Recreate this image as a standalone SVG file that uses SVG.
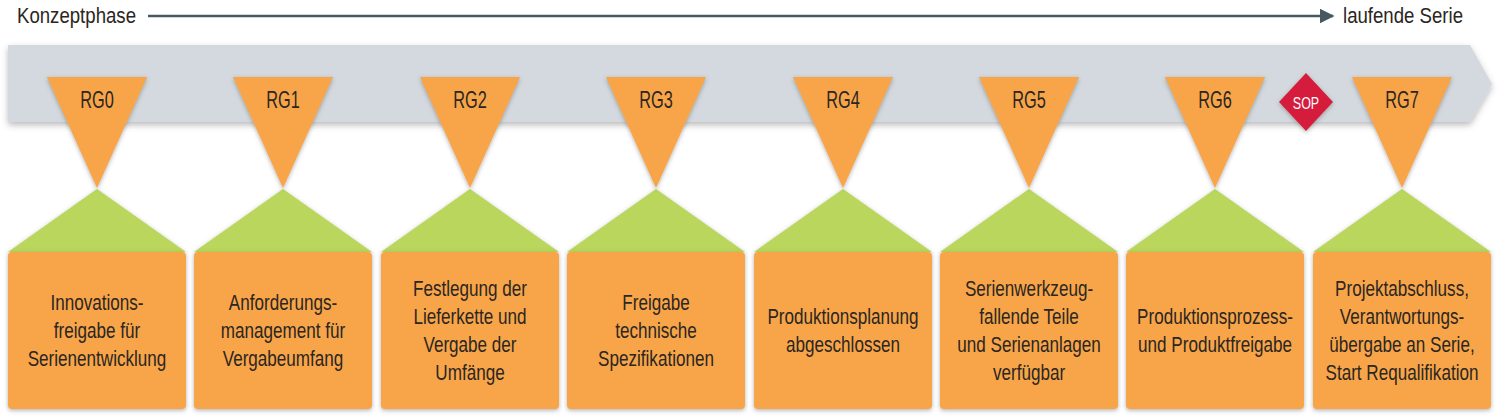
<svg xmlns="http://www.w3.org/2000/svg" width="1500" height="418" viewBox="0 0 1500 418">
<defs>
<filter id="sh" x="-10%" y="-10%" width="120%" height="130%">
<feDropShadow dx="0" dy="1.5" stdDeviation="2" flood-color="#555" flood-opacity="0.45"/>
</filter>
<filter id="shband" x="-5%" y="-20%" width="110%" height="150%">
<feDropShadow dx="0" dy="3" stdDeviation="3" flood-color="#555" flood-opacity="0.4"/>
</filter>
<marker id="ah" viewBox="0 0 10 10" refX="9" refY="5" markerWidth="6" markerHeight="6" orient="auto" markerUnits="strokeWidth">
<path d="M0,0 L10,5 L0,10 z" fill="#46595f"/>
</marker>
<style>
text{font-family:"Liberation Sans",Arial,sans-serif;fill:#2b2622;text-anchor:middle}
.hdr{font-size:23px;text-anchor:start}
.rg{font-size:24px}
.lbl{font-size:22.5px}
.sop{font-size:16px;fill:#fff}
.tri{fill:#f8a548;filter:url(#sh)}
.grn{fill:#bad65c;filter:url(#sh)}
.box{fill:#f8a548;filter:url(#sh)}
</style>
</defs>
<rect width="1500" height="418" fill="#fff"/>
<polygon points="8,45 1470,45 1492,84 1470,122 8,122" fill="#d3d9de" filter="url(#shband)"/>
<text class="hdr" transform="translate(17,0) scale(0.81,1)" x="0" y="23">Konzeptphase</text>
<text class="hdr" transform="translate(1343,0) scale(0.81,1)" x="0" y="23">laufende Serie</text>
<g id="connectors">
<line x1="148" y1="16" x2="1333" y2="16" stroke="#46595f" stroke-width="2.5" marker-end="url(#ah)"/>
</g>
<g id="rg0">
<polygon class="grn" points="8,252 97,189 186,252"/>
<rect class="box" x="8" y="252" width="178" height="157" rx="4"/>
<polygon class="tri" points="47,77 147,77 97,188"/>
<text class="rg" transform="translate(97,0) scale(0.68,1)" x="0" y="108">RG0</text>
<g transform="translate(97,0) scale(0.76,1)">
<text class="lbl" x="0" y="310">Innovations-</text>
<text class="lbl" x="0" y="338">freigabe für</text>
<text class="lbl" x="0" y="366">Serienentwicklung</text>
</g>
</g>
<g id="rg1">
<polygon class="grn" points="194,252 283,189 372,252"/>
<rect class="box" x="194" y="252" width="178" height="157" rx="4"/>
<polygon class="tri" points="233,77 333,77 283,188"/>
<text class="rg" transform="translate(283,0) scale(0.68,1)" x="0" y="108">RG1</text>
<g transform="translate(283,0) scale(0.76,1)">
<text class="lbl" x="0" y="310">Anforderungs-</text>
<text class="lbl" x="0" y="338">management für</text>
<text class="lbl" x="0" y="366">Vergabeumfang</text>
</g>
</g>
<g id="rg2">
<polygon class="grn" points="381,252 470,189 559,252"/>
<rect class="box" x="381" y="252" width="178" height="157" rx="4"/>
<polygon class="tri" points="420,77 520,77 470,188"/>
<text class="rg" transform="translate(470,0) scale(0.68,1)" x="0" y="108">RG2</text>
<g transform="translate(470,0) scale(0.76,1)">
<text class="lbl" x="0" y="296">Festlegung der</text>
<text class="lbl" x="0" y="324">Lieferkette und</text>
<text class="lbl" x="0" y="352">Vergabe der</text>
<text class="lbl" x="0" y="380">Umfänge</text>
</g>
</g>
<g id="rg3">
<polygon class="grn" points="567,252 656,189 745,252"/>
<rect class="box" x="567" y="252" width="178" height="157" rx="4"/>
<polygon class="tri" points="606,77 706,77 656,188"/>
<text class="rg" transform="translate(656,0) scale(0.68,1)" x="0" y="108">RG3</text>
<g transform="translate(656,0) scale(0.76,1)">
<text class="lbl" x="0" y="310">Freigabe</text>
<text class="lbl" x="0" y="338">technische</text>
<text class="lbl" x="0" y="366">Spezifikationen</text>
</g>
</g>
<g id="rg4">
<polygon class="grn" points="754,252 843,189 932,252"/>
<rect class="box" x="754" y="252" width="178" height="157" rx="4"/>
<polygon class="tri" points="793,77 893,77 843,188"/>
<text class="rg" transform="translate(843,0) scale(0.68,1)" x="0" y="108">RG4</text>
<g transform="translate(843,0) scale(0.76,1)">
<text class="lbl" x="0" y="324">Produktionsplanung</text>
<text class="lbl" x="0" y="352">abgeschlossen</text>
</g>
</g>
<g id="rg5">
<polygon class="grn" points="940,252 1029,189 1118,252"/>
<rect class="box" x="940" y="252" width="178" height="157" rx="4"/>
<polygon class="tri" points="979,77 1079,77 1029,188"/>
<text class="rg" transform="translate(1029,0) scale(0.68,1)" x="0" y="108">RG5</text>
<g transform="translate(1029,0) scale(0.76,1)">
<text class="lbl" x="0" y="296">Serienwerkzeug-</text>
<text class="lbl" x="0" y="324">fallende Teile</text>
<text class="lbl" x="0" y="352">und Serienanlagen</text>
<text class="lbl" x="0" y="380">verfügbar</text>
</g>
</g>
<g id="rg6">
<polygon class="grn" points="1126,252 1215,189 1304,252"/>
<rect class="box" x="1126" y="252" width="178" height="157" rx="4"/>
<polygon class="tri" points="1165,77 1265,77 1215,188"/>
<text class="rg" transform="translate(1215,0) scale(0.68,1)" x="0" y="108">RG6</text>
<g transform="translate(1215,0) scale(0.76,1)">
<text class="lbl" x="0" y="324">Produktionsprozess-</text>
<text class="lbl" x="0" y="352">und Produktfreigabe</text>
</g>
</g>
<g id="sop">
<polygon points="1306,73 1333,102 1306,131 1279,102" fill="#d61f3c" filter="url(#sh)"/>
<text class="sop" transform="translate(1306,0) scale(0.78,1)" x="0" y="109">SOP</text>
</g>
<g id="rg7">
<polygon class="grn" points="1313,252 1402,189 1491,252"/>
<rect class="box" x="1313" y="252" width="178" height="157" rx="4"/>
<polygon class="tri" points="1352,77 1452,77 1402,188"/>
<text class="rg" transform="translate(1402,0) scale(0.68,1)" x="0" y="108">RG7</text>
<g transform="translate(1402,0) scale(0.76,1)">
<text class="lbl" x="0" y="296">Projektabschluss,</text>
<text class="lbl" x="0" y="324">Verantwortungs-</text>
<text class="lbl" x="0" y="352">übergabe an Serie,</text>
<text class="lbl" x="0" y="380">Start Requalifikation</text>
</g>
</g>
</svg>
